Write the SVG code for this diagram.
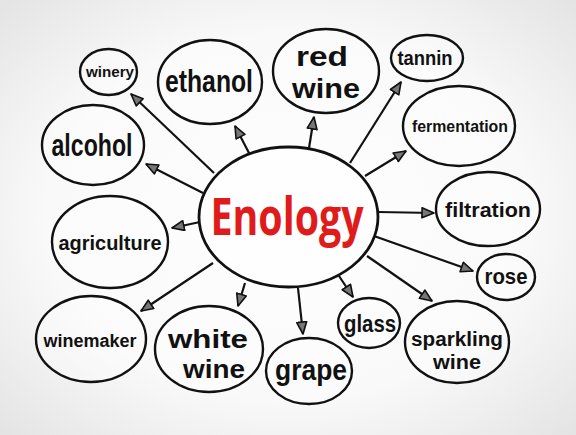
<svg xmlns="http://www.w3.org/2000/svg" width="576" height="435" viewBox="0 0 576 435">
<defs>
<radialGradient id="bg" cx="0.5" cy="0.5" r="0.7">
<stop offset="0" stop-color="#ffffff"/>
<stop offset="0.6" stop-color="#f9f9f9"/>
<stop offset="1" stop-color="#e4e4e4"/>
</radialGradient>
<marker id="ah" viewBox="0 0 14 12" refX="13" refY="6" markerWidth="14" markerHeight="12" markerUnits="userSpaceOnUse" orient="auto">
<path d="M1,1 L13,6 L1,11 Z" fill="#777" stroke="#111" stroke-width="1.6" stroke-linejoin="round"/>
</marker>
<style>
.n{fill:#fff;fill-opacity:0.35;stroke:#111;stroke-width:2.4}
.t{font-family:"Liberation Sans",Arial,sans-serif;font-weight:700;fill:#111;text-anchor:middle}
.c{stroke:#111;stroke-width:2.2;fill:none;marker-end:url(#ah)}
</style>
</defs>
<rect width="576" height="435" fill="url(#bg)"/>
<g id="connectors">
<line class="c" x1="214" y1="173" x2="131" y2="94"/>
<line class="c" x1="203" y1="193" x2="146" y2="164"/>
<line class="c" x1="249" y1="153" x2="235" y2="126"/>
<line class="c" x1="309" y1="148" x2="314" y2="117"/>
<line class="c" x1="350" y1="163" x2="401" y2="82"/>
<line class="c" x1="365" y1="176" x2="406" y2="151"/>
<line class="c" x1="378" y1="212" x2="434" y2="213"/>
<line class="c" x1="200" y1="222" x2="172" y2="228"/>
<line class="c" x1="213" y1="263" x2="141" y2="311"/>
<line class="c" x1="245" y1="283" x2="238" y2="306"/>
<line class="c" x1="298" y1="288" x2="303" y2="334"/>
<line class="c" x1="339" y1="276" x2="353" y2="297"/>
<line class="c" x1="367" y1="256" x2="432" y2="301"/>
<line class="c" x1="374" y1="236" x2="473" y2="271"/>
</g>
<g id="enology">
<ellipse class="n" cx="288.5" cy="217" rx="89.5" ry="70" style="stroke-width:2.8"/>
<text x="287" y="235" style="font-family:'Open Sans','Liberation Sans',sans-serif;font-weight:700;fill:#e01b1b;text-anchor:middle" font-size="52" textLength="153" lengthAdjust="spacingAndGlyphs">Enology</text>
</g>
<g id="winery">
<ellipse class="n" cx="108.5" cy="72" rx="28.5" ry="23"/>
<text class="t" x="110" y="77" font-size="15" textLength="48" lengthAdjust="spacingAndGlyphs">winery</text>
</g>
<g id="ethanol">
<ellipse class="n" cx="210" cy="82" rx="52" ry="42"/>
<text class="t" x="209" y="92" font-size="32" textLength="88" lengthAdjust="spacingAndGlyphs">ethanol</text>
</g>
<g id="alcohol">
<ellipse class="n" cx="93" cy="145" rx="51" ry="40"/>
<text class="t" x="92" y="156" font-size="32" textLength="81" lengthAdjust="spacingAndGlyphs">alcohol</text>
</g>
<g id="redwine">
<ellipse class="n" cx="326" cy="71" rx="53" ry="42"/>
<text class="t" font-size="28"><tspan x="322" y="66" textLength="52" lengthAdjust="spacingAndGlyphs">red</tspan><tspan x="326" y="98" textLength="68" lengthAdjust="spacingAndGlyphs">wine</tspan></text>
</g>
<g id="tannin">
<ellipse class="n" cx="427" cy="58" rx="36" ry="23"/>
<text class="t" x="425" y="65" font-size="20" textLength="55" lengthAdjust="spacingAndGlyphs">tannin</text>
</g>
<g id="fermentation">
<ellipse class="n" cx="459" cy="126" rx="56" ry="40"/>
<text class="t" x="460" y="132" font-size="17" textLength="96" lengthAdjust="spacingAndGlyphs">fermentation</text>
</g>
<g id="filtration">
<ellipse class="n" cx="488" cy="209" rx="52" ry="37"/>
<text class="t" x="488" y="217" font-size="21" textLength="86" lengthAdjust="spacingAndGlyphs">filtration</text>
</g>
<g id="agriculture">
<ellipse class="n" cx="110" cy="242" rx="58" ry="46"/>
<text class="t" x="110" y="250" font-size="20" textLength="103" lengthAdjust="spacingAndGlyphs">agriculture</text>
</g>
<g id="rose">
<ellipse class="n" cx="506" cy="277" rx="29" ry="23"/>
<text class="t" x="506" y="284" font-size="22" textLength="43" lengthAdjust="spacingAndGlyphs">rose</text>
</g>
<g id="winemaker">
<ellipse class="n" cx="91" cy="339" rx="55" ry="43"/>
<text class="t" x="90" y="347" font-size="18" textLength="93" lengthAdjust="spacingAndGlyphs">winemaker</text>
</g>
<g id="whitewine">
<ellipse class="n" cx="209" cy="349" rx="54" ry="43"/>
<text class="t" font-size="26"><tspan x="208" y="348" textLength="80" lengthAdjust="spacingAndGlyphs">white</tspan><tspan x="214" y="378" textLength="62" lengthAdjust="spacingAndGlyphs">wine</tspan></text>
</g>
<g id="grape">
<ellipse class="n" cx="309" cy="371" rx="43" ry="33"/>
<text class="t" x="311" y="380" font-size="30" textLength="72" lengthAdjust="spacingAndGlyphs">grape</text>
</g>
<g id="glass">
<ellipse class="n" cx="369" cy="323" rx="31" ry="25"/>
<text class="t" x="370" y="332" font-size="24" textLength="52" lengthAdjust="spacingAndGlyphs">glass</text>
</g>
<g id="sparklingwine">
<ellipse class="n" cx="457" cy="342" rx="52" ry="41"/>
<text class="t" font-size="20"><tspan x="457" y="346" textLength="92" lengthAdjust="spacingAndGlyphs">sparkling</tspan><tspan x="457" y="369" textLength="48" lengthAdjust="spacingAndGlyphs">wine</tspan></text>
</g>
</svg>
